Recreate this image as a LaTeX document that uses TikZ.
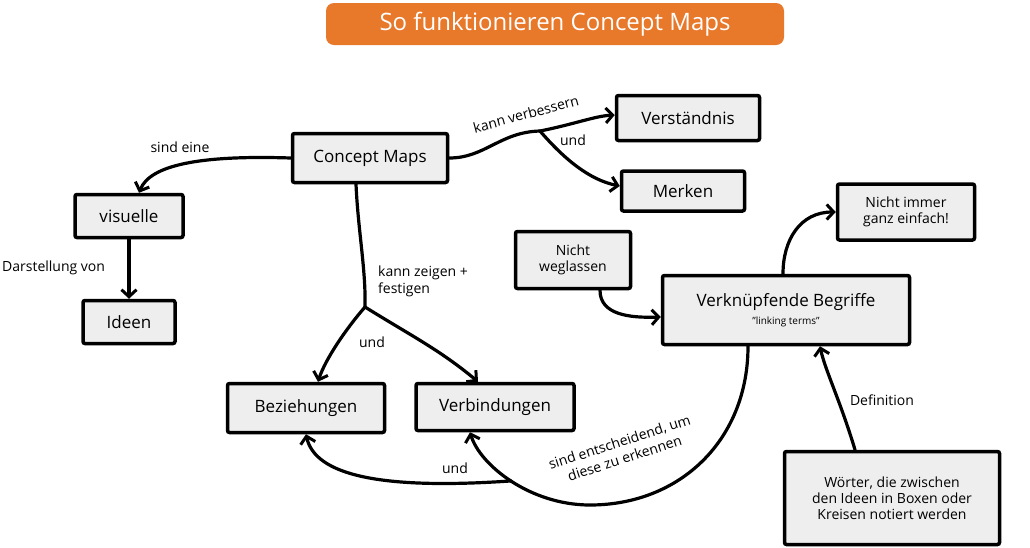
\documentclass[tikz,border=0pt]{standalone}
\usepackage{fontspec}
\setmainfont{Open Sans}
\usetikzlibrary{arrows.meta, positioning}

\definecolor{banner}{HTML}{E8782A}
\definecolor{boxfill}{HTML}{EEEEEE}

\tikzset{
	concept/.style={draw, line width=3.5pt, fill=boxfill, rounded corners=2pt,
		align=center, font=\fontsize{17}{20}\selectfont},
	small/.style={font=\fontsize{14}{16}\selectfont},
	link/.style={line width=3.2pt, line cap=round,
		-{Straight Barb[length=7pt, width=15pt, line width=3pt]}},
	branch/.style={line width=3.2pt, line cap=round},
	lbl/.style={font=\fontsize{14}{17}\selectfont, align=left, inner sep=1pt}
}

\begin{document}
\begin{tikzpicture}[x=1pt, y=-1pt]
	\useasboundingbox (0,0) rectangle (1030,547);

	% title
	\node[fill=banner, rounded corners=8pt, minimum width=458pt, minimum height=42pt,
		text=white, font=\fontsize{24}{28}\selectfont] (title) at (555,24) {So funktionieren Concept Maps};

	% boxes
	\node[concept, minimum width=155pt, minimum height=49pt] (cm) at (370,158) {Concept Maps};
	\node[concept, minimum width=143pt, minimum height=45pt] (vs) at (688,118) {Verständnis};
	\node[concept, minimum width=123pt, minimum height=40pt] (mk) at (683,191) {Merken};
	\node[concept, minimum width=108pt, minimum height=43pt] (vi) at (129,216) {visuelle};
	\node[concept, minimum width=92pt, minimum height=43pt] (id) at (129,322) {Ideen};
	\node[concept, small, minimum width=115pt, minimum height=57pt] (nw) at (573,260) {Nicht\\weglassen};
	\node[concept, small, minimum width=137pt, minimum height=56pt] (ne) at (906,212) {Nicht immer\\ganz einfach!};
	\node[concept, minimum width=247pt, minimum height=69pt] (vb) at (786,310)
		{Verknüpfende Begriffe\\[-2pt]{\fontsize{10}{12}\selectfont "linking terms"}};
	\node[concept, minimum width=157pt, minimum height=49pt] (bz) at (306,408) {Beziehungen};
	\node[concept, minimum width=158pt, minimum height=47pt] (vd) at (495,407) {Verbindungen};
	\node[concept, small, minimum width=215pt, minimum height=93pt] (wt) at (892,498)
		{Wörter, die zwischen\\den Ideen in Boxen oder\\Kreisen notiert werden};

	% junctions
	\coordinate (kv) at (540,131);
	\coordinate (kz) at (365,307);

	% connectors
	\draw[link] (cm.west) .. controls (200,155) and (150,165) .. ([xshift=10pt]vi.north);
	\draw[link] (vi) -- (id);
	\draw[branch] (cm.east) .. controls (485,158) and (500,132) .. (kv);
	\draw[link] (kv) .. controls (575,124) and (595,116) .. ([yshift=3pt]vs.west);
	\draw[link] (kv) .. controls (565,160) and (590,180) .. ([yshift=5pt]mk.west);
	\draw[branch] ([xshift=-14pt]cm.south) .. controls (358,230) and (366,270) .. (kz);
	\draw[link] (kz) .. controls (345,330) and (325,360) .. ([xshift=12pt]bz.north);
	\draw[link] (kz) .. controls (410,335) and (440,350) .. ([xshift=-17pt]vd.north);
	\draw[link] ([xshift=27pt]nw.south) .. controls (600,315) and (630,318) .. ([yshift=-7pt]vb.west);
	\draw[link] ([xshift=-3pt]vb.north) .. controls (783,240) and (800,212) .. (ne.west);
	\draw[link] ([xshift=-37pt]wt.north) .. controls (840,400) and (825,370) .. ([xshift=34pt]vb.south);
	\draw[link] ([xshift=-38pt]vb.south) .. controls (748,440) and (680,505) .. (590,505)
		.. controls (530,505) and (480,465) .. coordinate[pos=0.5] (ub) ([xshift=-25pt]vd.south);
	\draw[link] (ub) .. controls (380,490) and (315,475) .. (bz.south);

	% labels
	\node[lbl] (l1) at (180,147) {sind eine};
	\node[lbl, anchor=west] (l2) at (1,268) {Darstellung von};
	\node[lbl, rotate=15] (l3) at (526,114) {kann verbessern};
	\node[lbl] (l4) at (573,140) {und};
	\node[lbl, anchor=west] (l5) at (377,281) {kann zeigen +\\festigen};
	\node[lbl] (l6) at (372,342) {und};
	\node[lbl] (l7) at (882,400) {Definition};
	\node[lbl] (l8) at (455,468) {und};
	\node[lbl, rotate=18, align=center] (l9) at (622,450) {sind entscheidend, um\\diese zu erkennen};

\end{tikzpicture}
\end{document}
